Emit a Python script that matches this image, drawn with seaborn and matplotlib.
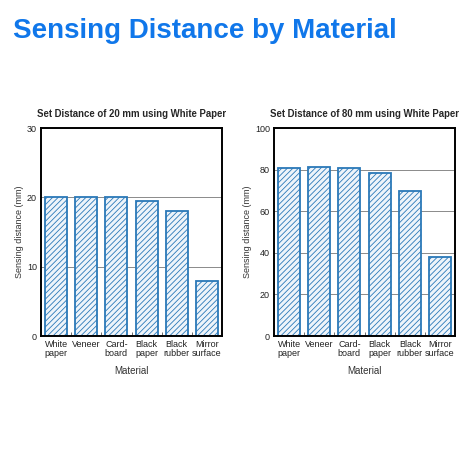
import numpy as np
import pandas as pd
import seaborn as sns
import matplotlib.pyplot as plt

materials = ["White\npaper", "Veneer", "Card-\nboard", "Black\npaper", "Black\nrubber", "Mirror\nsurface"]
dist_20mm = [20, 20, 20, 19.5, 18, 8]
dist_80mm = [81, 81.2, 81, 78.5, 69.5, 38]

sns.set_theme(style="white")
plt.rcParams['font.family'] = ['Liberation Sans', 'DejaVu Sans']
plt.rcParams['hatch.linewidth'] = 0.6

fig = plt.figure(figsize=(4.74, 4.74), dpi=100)
fig.text(13 / 474, 1 - 31 / 474, "Sensing Distance by Material", fontsize=20,
         fontweight='bold', color='#1077ea', va='center', ha='left')

ax1 = fig.add_axes([41 / 474, 1 - 336 / 474, 181 / 474, 208 / 474])
ax2 = fig.add_axes([274 / 474, 1 - 336 / 474, 181 / 474, 208 / 474])

panels = [
    (ax1, dist_20mm, "Set Distance of 20 mm using White Paper", 30, [0, 10, 20, 30]),
    (ax2, dist_80mm, "Set Distance of 80 mm using White Paper", 100, [0, 20, 40, 60, 80, 100]),
]

for ax, vals, title, ymax, yticks in panels:
    df = pd.DataFrame({"Material": materials, "Distance": vals})
    sns.barplot(data=df, x="Material", y="Distance", ax=ax, width=0.73,
                color='#eef4fa', edgecolor='#2a78b8', linewidth=1.3)
    for p in ax.patches:
        p.set_hatch('//////')
        p.set_alpha(1)
        p.set_facecolor('#eef4fa')
        p.set_edgecolor('#2a78b8')
        p.set_zorder(3)
    ax.set_ylim(0, ymax)
    ax.set_xlim(-0.5, len(materials) - 0.5)
    ax.set_yticks(yticks)
    ax.grid(axis='y', color='#777777', linewidth=0.6, zorder=0)
    ax.set_axisbelow(True)
    for s in ax.spines.values():
        s.set_color('black')
        s.set_linewidth(1.4)
        s.set_zorder(4)
    ax.set_title(title, fontsize=6.9, fontweight='bold', pad=8)
    ax.set_ylabel("Sensing distance (mm)", fontsize=6.5, color='#333333', labelpad=2)
    ax.set_xlabel("Material", fontsize=7, color='#333333', labelpad=6)
    ax.tick_params(axis='y', labelsize=6.5, length=0, pad=3, labelcolor='#222222')
    ax.tick_params(axis='x', labelsize=6.5, length=0, pad=3, labelcolor='#222222')
    for lbl in ax.get_xticklabels():
        lbl.set_linespacing(0.95)
    ax.set_xticks(np.arange(len(materials) - 1) + 0.5, minor=True)
    ax.tick_params(axis='x', which='minor', direction='in', length=3, width=0.6,
                   color='#555555', bottom=True)

fig.savefig("out.png", dpi=100, facecolor='white')
